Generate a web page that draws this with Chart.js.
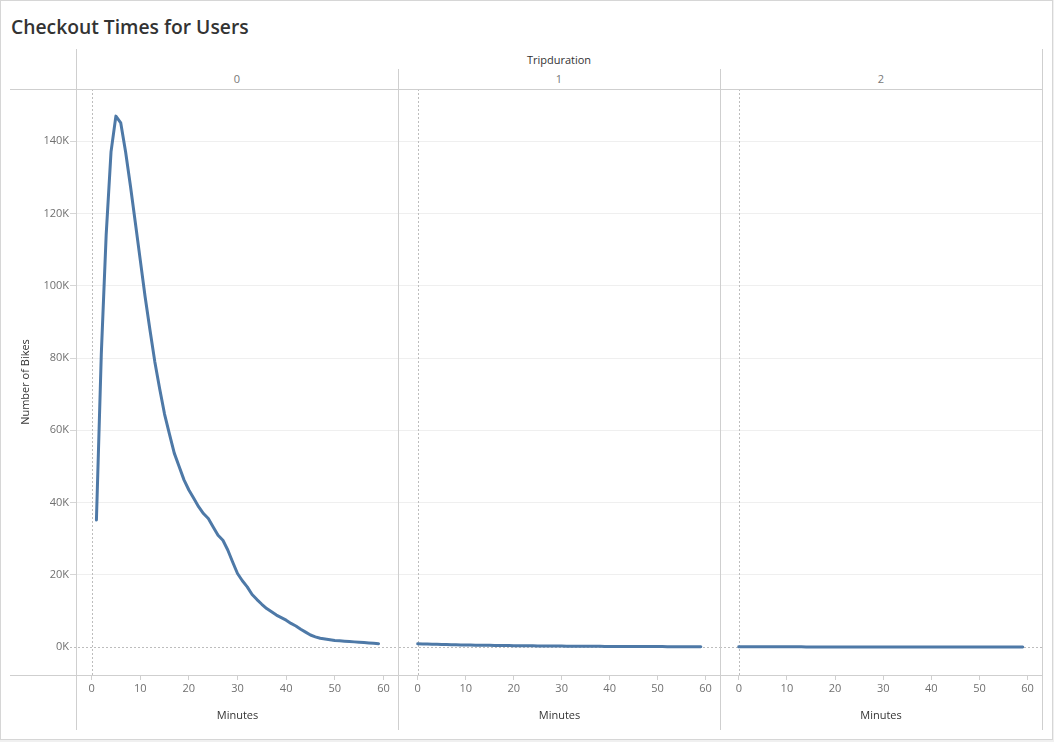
<!DOCTYPE html>
<html>
<head>
<meta charset="utf-8">
<script src="https://cdn.jsdelivr.net/npm/chart.js@4.4.1/dist/chart.umd.min.js"></script>
<style>
  html, body { margin: 0; padding: 0; background: #f0f0f0; }
  body { width: 1054px; height: 742px; position: relative; overflow: hidden; font-family: "Open Sans", "Noto Sans", sans-serif; }
  #frame { position: absolute; left: 0; top: 0; width: 1051px; height: 738px; background: #fff; border: 1px solid #d6d6d6; }
  .abs { position: absolute; }
  .hl { position: absolute; height: 1px; background: #cfcfcf; }
  .vl { position: absolute; width: 1px; background: #cfcfcf; }
  #title { left: 11px; top: 13px; font-size: 19.3px; color: #333; font-weight: 600; white-space: nowrap; }
  #colhead { left: 398px; width: 322px; top: 52px; font-size: 11px; color: #333; text-align: center; }
  .panelhead { top: 71px; width: 322px; font-size: 11px; color: #777; text-align: center; }
  canvas { position: absolute; }
</style>
</head>
<body>
<div id="frame"></div>
<div id="title" class="abs">Checkout Times for Users</div>
<div id="colhead" class="abs">Tripduration</div>
<div class="abs panelhead" style="left:76px">0</div>
<div class="abs panelhead" style="left:398px">1</div>
<div class="abs panelhead" style="left:720px">2</div>

<canvas id="c0" width="389" height="641" style="left:10px;top:89px"></canvas>
<canvas id="c1" width="321" height="641" style="left:399px;top:89px"></canvas>
<canvas id="c2" width="322" height="641" style="left:720px;top:89px"></canvas>

<div class="hl" style="left:10px;top:89px;width:1033px"></div>
<div class="hl" style="left:10px;top:675px;width:1033px"></div>
<div class="vl" style="left:76px;top:49px;height:681px"></div>
<div class="vl" style="left:398px;top:69px;height:661px"></div>
<div class="vl" style="left:720px;top:69px;height:661px"></div>
<div class="vl" style="left:1042px;top:49px;height:681px"></div>

<script>
// panel headers (Tripduration, in hours)
const panels = ["0", "1", "2"];

// minutes of checkout, per panel
const minutes0 = [1,2,3,4,5,6,7,8,9,10,11,12,13,14,15,16,17,18,19,20,21,22,23,24,25,26,27,28,29,30,
  31,32,33,34,35,36,37,38,39,40,41,42,43,44,45,46,47,48,49,50,51,52,53,54,55,56,57,58,59];
const minutes1 = [0,1,2,3,4,5,6,7,8,9,10,11,12,13,14,15,16,17,18,19,20,21,22,23,24,25,26,27,28,29,30,
  31,32,33,34,35,36,37,38,39,40,41,42,43,44,45,46,47,48,49,50,51,52,53,54,55,56,57,58,59];
const minutes2 = [0,1,2,3,4,5,6,7,8,9,10,11,12,13,14,15,16,17,18,19,20,21,22,23,24,25,26,27,28,29,30,
  31,32,33,34,35,36,37,38,39,40,41,42,43,44,45,46,47,48,49,50,51,52,53,54,55,56,57,58,59];

// number of bikes
const bikes0 = [35200,81000,114000,137000,146900,145000,137000,127500,117400,107200,
  97000,87800,79000,71500,64500,59000,53700,50000,46300,43500,
  41200,38900,37000,35600,33300,31000,29600,26900,23600,20400,
  18400,16700,14600,13200,11900,10700,9800,8900,8200,7500,
  6600,5900,5000,4200,3400,2900,2500,2300,2100,1900,
  1800,1700,1600,1500,1400,1300,1200,1100,1000];
const bikes1 = [980,930,890,850,810,780,750,720,690,670,
  640,620,600,580,560,540,520,500,480,470,
  450,440,420,410,400,390,370,360,350,340,
  330,320,310,300,295,285,280,270,265,255,
  250,245,240,230,225,220,215,210,205,200,
  195,190,185,180,178,172,168,165,160,155];
const bikes2 = [150,148,146,143,140,138,136,133,130,128,
  126,124,122,120,118,116,114,112,110,108,
  106,104,102,100,99,97,95,94,92,91,
  89,88,86,85,84,82,81,80,79,78,
  77,76,75,74,73,72,71,70,69,68,
  67,66,66,65,64,63,63,62,61,60];

const xMin = [-3.2, -3.9, -3.9];
const xMax = [63.2, 63.0, 63.0];
const yMin = -7660, yMax = 154400;

const FONT = '"Open Sans", "Noto Sans", sans-serif';
const LINE = '#4e79a7';
const TICK = '#707070';

// dotted zero reference lines, like Tableau
const zeroLines = {
  id: 'zeroLines',
  beforeDatasetsDraw(chart, args, opts) {
    const {ctx, chartArea: a, scales: {x, y}} = chart;
    ctx.save();
    ctx.strokeStyle = '#bdbdbd';
    ctx.lineWidth = 1;
    ctx.setLineDash([2, 2]);
    const px = Math.round(x.getPixelForValue(0)) + 0.5;
    const py = Math.round(y.getPixelForValue(0)) + 0.5;
    ctx.beginPath();
    ctx.moveTo(px, a.top); ctx.lineTo(px, a.bottom);
    ctx.moveTo(a.left - (opts.extend || 0), py); ctx.lineTo(a.right, py);
    ctx.stroke();
    ctx.restore();
  }
};

function makeChart(id, i, xs, ys) {
  const first = i === 0;
  return new Chart(document.getElementById(id), {
    type: 'line',
    data: {
      datasets: [{
        label: 'Tripduration ' + panels[i],
        data: xs.map((m, k) => ({x: m, y: ys[k]})),
        borderColor: LINE,
        borderWidth: 3,
        pointRadius: 0,
        tension: 0,
        borderCapStyle: 'round',
        borderJoinStyle: 'round'
      }]
    },
    options: {
      responsive: false,
      animation: false,
      devicePixelRatio: 1,
      layout: { padding: 0 },
      plugins: { legend: { display: false }, tooltip: { enabled: false }, zeroLines: { extend: first ? 6 : 0 } },
      scales: {
        x: {
          type: 'linear',
          min: xMin[i], max: xMax[i],
          border: { display: false },
          grid: { drawOnChartArea: false, drawTicks: true, tickLength: 5, tickColor: '#cfcfcf' },
          ticks: { stepSize: 10, includeBounds: false, padding: 2, maxRotation: 0, color: TICK, font: { family: FONT, size: 11 } },
          title: { display: true, text: 'Minutes', color: '#333', padding: { top: 0, bottom: 8 }, font: { family: FONT, size: 11 } },
          afterFit(s) { s.height = 55; s.paddingLeft = 0; s.paddingRight = 0; }
        },
        y: {
          type: 'linear',
          min: yMin, max: yMax,
          border: { display: false },
          grid: {
            drawTicks: first,
            tickLength: 6,
            color: c => c.tick && c.tick.value === 0 ? 'rgba(0,0,0,0)' : '#efefef',
            tickColor: c => c.tick && c.tick.value === 0 ? 'rgba(0,0,0,0)' : '#d6d6d6'
          },
          ticks: {
            display: first,
            includeBounds: false, padding: 1,
            color: TICK, font: { family: FONT, size: 11 },
            callback: v => (v / 1000) + 'K'
          },
          title: { display: first, text: 'Number of Bikes', color: '#333', padding: { top: 9, bottom: 0 }, font: { family: FONT, size: 11 } },
          afterFit(s) { s.width = first ? 66 : 0; s.paddingTop = 0; s.paddingBottom = 0; }
        }
      }
    },
    plugins: [zeroLines]
  });
}

makeChart('c0', 0, minutes0, bikes0);
makeChart('c1', 1, minutes1, bikes1);
makeChart('c2', 2, minutes2, bikes2);
</script>
</body>
</html>
